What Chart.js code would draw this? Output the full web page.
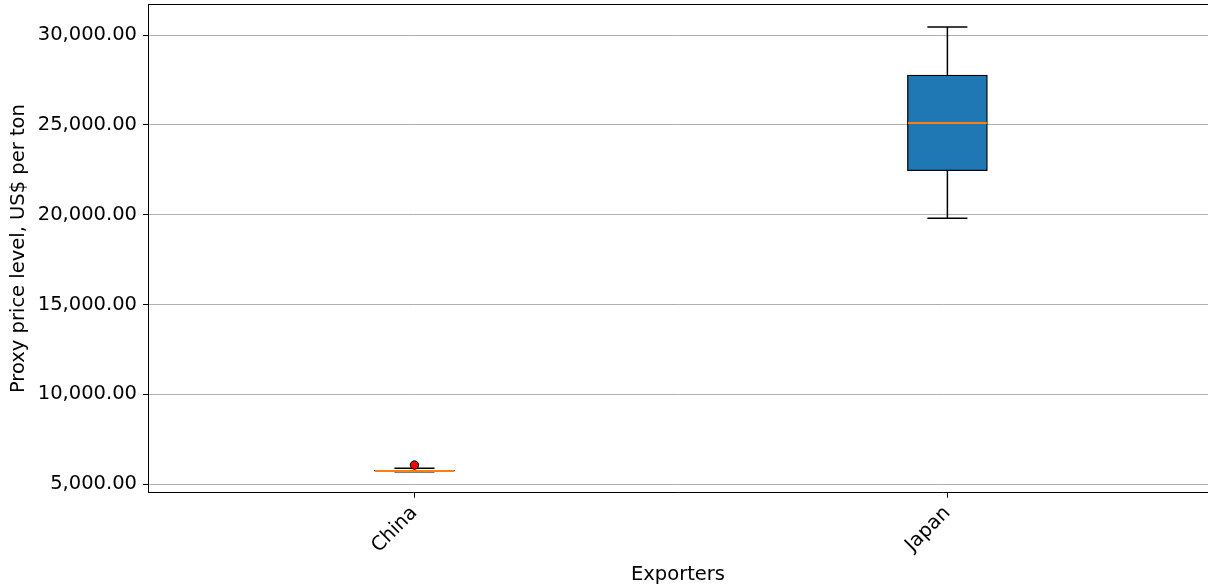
<!DOCTYPE html>
<html><head><meta charset="utf-8">
<script src="https://cdn.jsdelivr.net/npm/chart.js@4/dist/chart.umd.min.js"></script>
<style>html,body{margin:0;padding:0;overflow:hidden;background:#fff}canvas{display:block}</style>
</head><body><canvas id="c" width="1208" height="587"></canvas>
<script>
// ---- data ----
const categories = ['China', 'Japan'];
const positions = [1, 2];
const whiskerLow = [5690, 19795];
const q1 = [5720, 22450];
const median = [5740, 25110];
const q3 = [5760, 27775];
const whiskerHigh = [5885, 30445];
const outliers = [6060, null];
const yTicks = [5000, 10000, 15000, 20000, 25000, 30000];

const FONT = {family: '"DejaVu Sans", sans-serif', size: 19.5};

const boxParts = {
  id: 'boxParts',
  afterDatasetDraw(chart, args) {
    if (args.index !== 0) return;
    const ctx = chart.ctx, ys = chart.scales.y;
    const meta = chart.getDatasetMeta(0);
    const seg = (x1, y1, x2, y2) => { ctx.beginPath(); ctx.moveTo(x1, y1); ctx.lineTo(x2, y2); ctx.stroke(); };
    ctx.save();
    categories.forEach((c, i) => {
      const bar = meta.data[i];
      const cx = bar.x, half = bar.width / 2, capHalf = half / 2;
      ctx.strokeStyle = '#000'; ctx.lineWidth = 1.5;
      const yq1 = ys.getPixelForValue(q1[i]), yq3 = ys.getPixelForValue(q3[i]);
      const ylo = ys.getPixelForValue(whiskerLow[i]), yhi = ys.getPixelForValue(whiskerHigh[i]);
      seg(cx, yq3, cx, yhi);
      seg(cx, yq1, cx, ylo);
      seg(cx - capHalf, yhi, cx + capHalf, yhi);
      seg(cx - capHalf, ylo, cx + capHalf, ylo);
      ctx.strokeStyle = '#ff7f0e'; ctx.lineWidth = 2;
      const ym = Math.round(ys.getPixelForValue(median[i]));
      seg(cx - half + 0.5, ym, cx + half - 0.5, ym);
    });
    ctx.restore();
  },
  afterDraw(chart) {
    const ctx = chart.ctx, a = chart.chartArea;
    ctx.save();
    ctx.strokeStyle = '#000'; ctx.lineWidth = 1;
    ctx.beginPath();
    ctx.moveTo(a.left, a.top); ctx.lineTo(a.right, a.top);
    ctx.stroke();
    ctx.restore();
  }
};

new Chart(document.getElementById('c'), {
  type: 'bar',
  data: {
    datasets: [
      {
        type: 'bar',
        data: categories.map((c, i) => ({x: positions[i], y: [q1[i], q3[i]]})),
        backgroundColor: '#1f77b4',
        borderColor: '#000',
        borderWidth: 1.3,
        borderSkipped: false,
        barThickness: 80,
        order: 2
      },
      {
        type: 'line',
        data: categories.map((c, i) => ({x: positions[i], y: outliers[i]})),
        showLine: false,
        pointRadius: 4.2,
        pointBackgroundColor: '#ff0000',
        pointBorderColor: '#000',
        pointBorderWidth: 1,
        order: 1
      }
    ]
  },
  options: {
    responsive: false,
    animation: false,
    devicePixelRatio: 1,
    layout: {autoPadding: false, padding: {top: 4.5, right: 0, left: 0, bottom: 0}},
    plugins: {legend: {display: false}, tooltip: {enabled: false}},
    scales: {
      x: {
        type: 'linear',
        min: 0.5,
        max: 2.489,
        offset: false,
        afterFit: s => { s.height = 94.3; s.paddingLeft = 0; s.paddingRight = 0; },
        afterBuildTicks: s => { s.ticks = positions.map(v => ({value: v})); },
        grid: {display: true, drawOnChartArea: false, offset: false, tickLength: 5, tickColor: '#000'},
        border: {display: true, color: '#000', width: 1},
        ticks: {
          minRotation: 45, maxRotation: 45, font: FONT, color: '#000', padding: 4,
          callback: v => categories[positions.indexOf(v)]
        },
        title: {display: true, text: 'Exporters', font: FONT, color: '#000', padding: {top: 0, bottom: 0}}
      },
      y: {
        min: 4520,
        max: 31700,
        afterFit: s => { s.width = 148; s.paddingTop = 0; s.paddingBottom = 0; },
        afterBuildTicks: s => { s.ticks = yTicks.map(v => ({value: v})); },
        grid: {color: '#b0b0b0', lineWidth: 1, tickLength: 5, tickColor: '#000'},
        border: {display: true, color: '#000', width: 1},
        ticks: {
          font: FONT, color: '#000', padding: 6,
          callback: v => Number(v).toLocaleString('en-US', {minimumFractionDigits: 2, maximumFractionDigits: 2})
        },
        title: {display: true, text: 'Proxy price level, US$ per ton', font: FONT, color: '#000', padding: {top: 7, bottom: 0}}
      }
    }
  },
  plugins: [boxParts]
});
</script>
</body></html>
